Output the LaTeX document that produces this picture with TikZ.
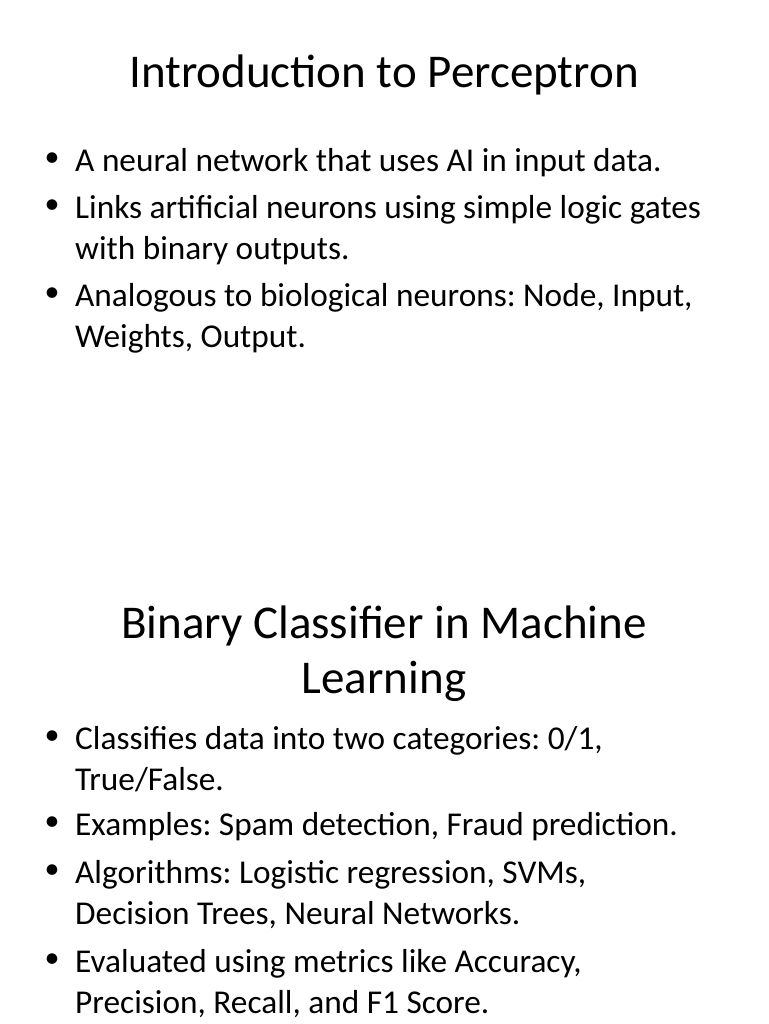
\documentclass[tikz,border=0pt]{standalone}
\usepackage{fontspec}
\setmainfont{Carlito}
\frenchspacing
\begin{document}
\begin{tikzpicture}[x=1pt,y=-1pt,
  title/.style={font=\fontsize{47}{55}\selectfont,align=center,anchor=center,inner sep=0pt},
  item/.style={font=\fontsize{33.3}{41}\selectfont\frenchspacing,align=left,anchor=north west,inner sep=0pt},
  dot/.style={font=\fontsize{30}{41}\selectfont,anchor=mid,inner sep=0pt}]
\useasboundingbox[fill=white] (0,0) rectangle (768,1024);
\node[title] (t1) at (384,75) {Introduction to Perceptron};
\node[item] (a1) at (75,148) {A neural network that uses AI in input data.};
\node[item] (a2) at (75,195) {Links artificial neurons using simple logic gates\\with binary outputs.};
\node[item] (a3) at (75,283) {Analogous to biological neurons: Node, Input,\\Weights, Output.};
\foreach \n/\y in {b1/164,b2/211,b3/299,b4/742,b5/828,b6/876,b7/965}
  \node[dot] (\n) at (52,\y) {•};
\node[title] (t2) at (384,654) {Binary Classifier in Machine\\Learning};
\node[item] (c1) at (75,726) {Classifies data into two categories: 0/1,\\True/False.};
\node[item] (c2) at (75,812) {Examples: Spam detection, Fraud prediction.};
\node[item] (c3) at (75,860) {Algorithms: Logistic regression, SVMs,\\Decision Trees, Neural Networks.};
\node[item] (c4) at (75,949) {Evaluated using metrics like Accuracy,\\Precision, Recall, and F1 Score.};
\end{tikzpicture}
\end{document}
